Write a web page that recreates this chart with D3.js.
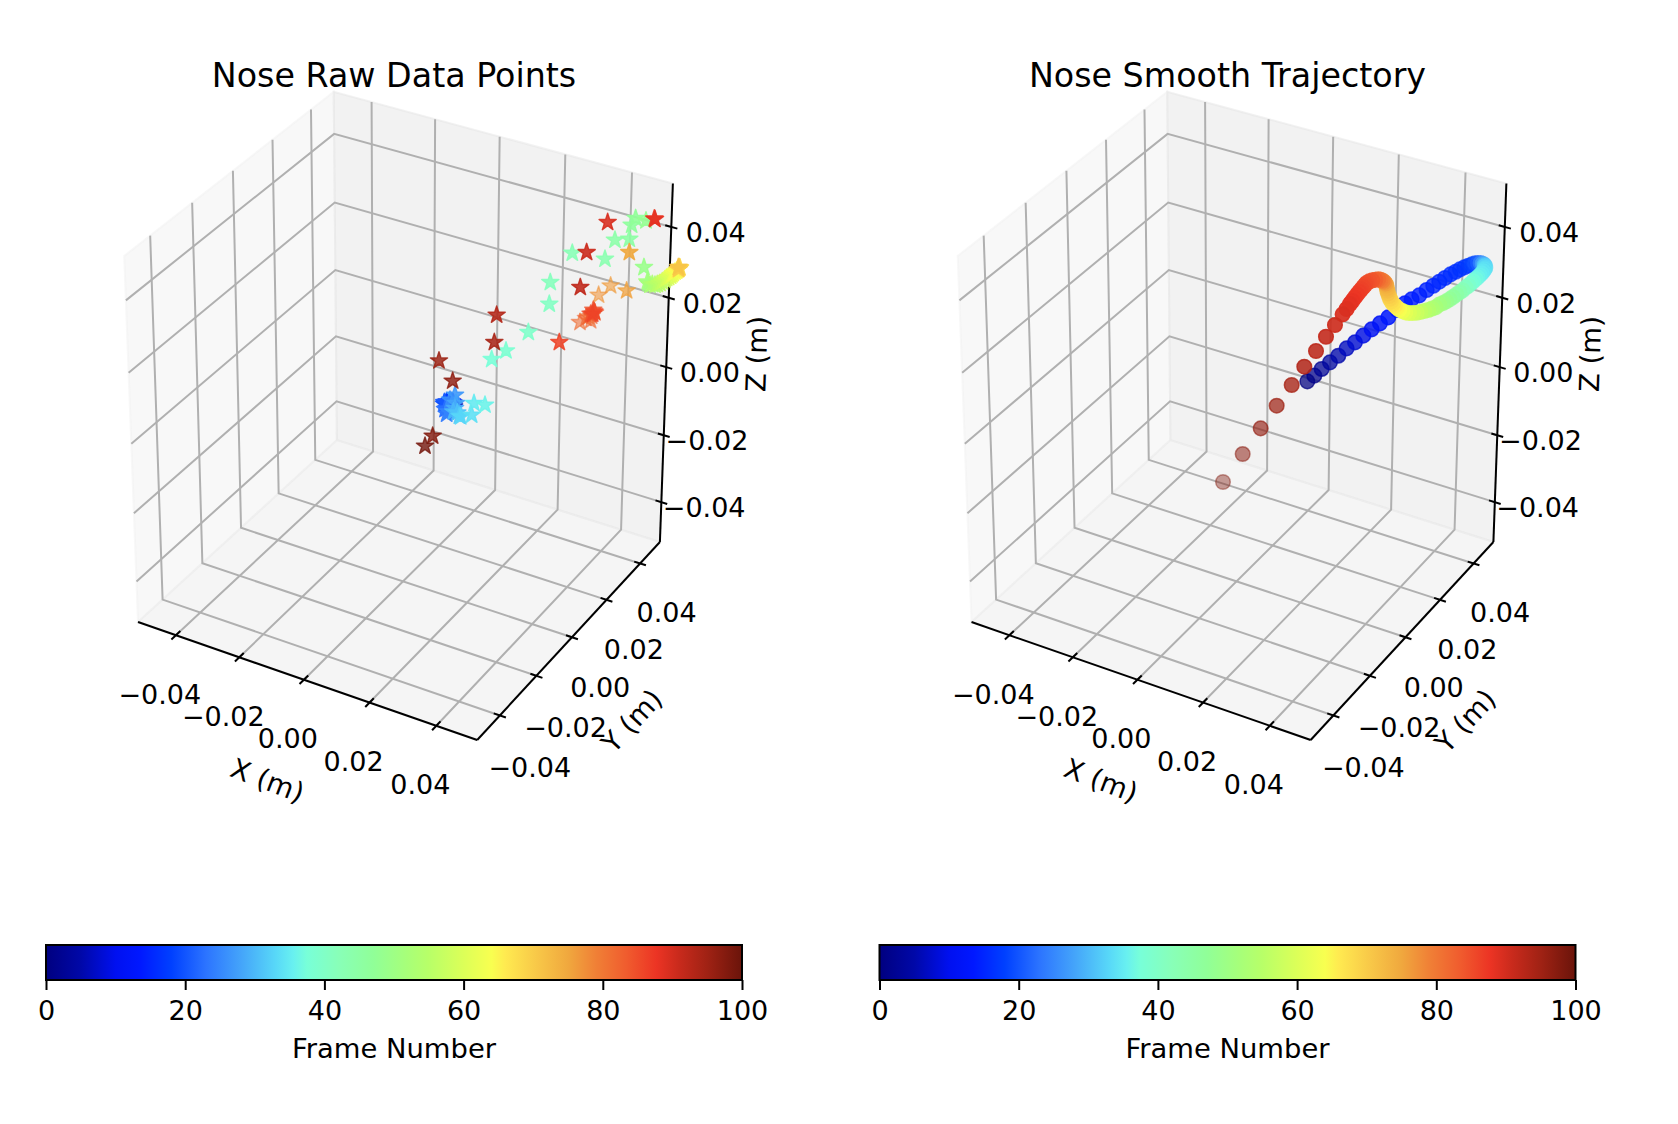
<!DOCTYPE html>
<html>
<head>
<meta charset="utf-8">
<title>Nose trajectory</title>
<script src="https://cdnjs.cloudflare.com/ajax/libs/d3/7.8.5/d3.min.js"></script>
<style>
  html, body { margin: 0; padding: 0; background: #fff; }
  svg { display: block; }
  text { font-family: "DejaVu Sans", sans-serif; fill: #000; }
</style>
</head>
<body>
<svg id="chart" width="1678" height="1124"></svg>
<script>
// Nose position per video frame, in millimetres.
const rawX = [10.84,11.33,11.61,10.85,11.35,11.87,10.95,11.16,11.47,10.62,11.2,11.66,10.63,11.09,10.51,10.12,9.92,9.86,9.59,9.4,9.37,10.28,9.96,10.63,10.87,10.53,11.37,12.12,12.2,12.03,13.01,13.68,14.03,16.46,16.27,18.9,17.6,20.36,24.37,27.43,26.31,29.55,37.46,38.57,41.82,41.49,41.99,44.52,46.97,48.95,48.62,49.45,49.94,50.6,51.09,51.64,52.08,52.58,52.87,53.27,53.65,53.87,54.09,54.4,54.71,54.88,55.05,55.17,55.28,55.11,55.07,54.88,42.65,44.42,40.43,38.24,37.21,35.64,38.0,36.77,37.94,38.5,37.94,37.58,38.28,38.04,32.13,46.31,46.51,35.79,32.82,33.54,15.99,17.15,5.54,9.96,8.78,7.64];
const rawY = [6.23,6.27,6.67,6.57,6.77,6.58,6.05,6.56,6.92,6.25,5.96,6.23,6.59,6.86,5.9,6.06,5.7,6.15,5.75,5.54,5.77,5.43,5.1,4.82,5.29,6.77,7.98,7.21,6.54,5.95,6.38,6.28,6.39,8.03,9.6,10.89,16.7,19.54,24.49,30.34,32.8,38.9,42.6,45.98,47.99,49.81,51.07,52.19,46.88,45.74,45.79,45.78,46.16,46.45,46.83,47.29,47.78,48.32,48.72,49.08,49.5,49.82,50.14,50.51,50.84,51.07,51.31,51.47,51.64,51.58,51.28,51.45,46.55,42.06,40.47,37.87,34.16,32.44,34.04,33.67,34.67,35.48,35.54,34.76,35.5,35.03,27.53,53.51,53.53,46.91,40.88,36.26,22.15,18.89,9.55,9.18,0.58,-1.52];
const rawZ = [-0.04,-0.4,-0.04,0.46,0.32,-0.4,-0.4,0.17,0.46,0.17,-0.76,-0.76,0.68,0.68,-0.26,0.32,-0.04,0.68,0.32,0.17,0.53,-0.76,-0.98,-1.99,-1.48,1.04,2.11,0.32,-0.76,-1.48,-1.7,-2.42,-2.56,-2.2,0.32,-0.04,9.81,11.68,15.64,21.75,26.43,32.76,31.46,35.56,35.78,38.8,40.24,39.74,29.67,26.21,26.57,25.85,26.0,25.85,26.0,26.21,26.57,26.93,27.29,27.51,27.8,28.08,28.37,28.66,28.87,29.09,29.31,29.45,29.59,29.67,29.23,29.67,32.9,24.63,25.71,23.69,19.02,17.8,18.16,18.66,19.16,19.88,20.46,19.59,20.1,19.59,13.48,40.17,40.03,39.38,32.9,25.35,19.38,13.48,9.52,5.14,-6.73,-8.89];

const smoothX = [14.86,16.12,17.39,18.89,20.4,21.86,23.41,24.91,26.44,27.98,29.53,31.14,32.5,33.79,35.3,36.66,37.93,39.06,40.14,41.21,42.21,43.05,43.93,44.74,45.51,46.14,46.81,47.43,47.93,48.37,48.6,48.79,48.74,48.55,48.3,47.96,47.63,47.26,46.87,46.46,45.99,45.5,44.98,44.41,43.79,43.16,42.54,41.89,41.24,40.49,39.82,39.05,38.29,37.44,36.57,35.77,34.87,34.02,33.14,32.37,31.59,30.93,30.34,29.76,29.22,28.76,28.36,27.97,27.64,27.41,27.1,26.82,26.41,25.95,25.42,24.86,24.19,23.55,22.91,22.4,22.15,21.88,21.57,21.25,20.9,20.56,20.22,19.87,19.41,18.82,17.72,16.38,14.97,13.25,11.48,9.31,7.04,4.49,1.7];
const smoothY = [11.95,13.49,15.19,17.02,18.84,20.74,22.5,24.33,26.12,27.88,29.63,31.62,33.36,34.68,36.13,37.68,39.03,40.27,41.41,42.56,43.51,44.35,45.13,45.84,46.48,46.98,47.42,47.77,47.97,48.08,48.03,47.89,47.63,47.23,46.8,46.31,45.83,45.38,44.82,44.3,43.68,43.12,42.43,41.82,41.12,40.42,39.73,39.07,38.44,37.78,37.01,36.37,35.74,35.1,34.46,33.9,33.34,32.85,32.43,32.18,31.92,31.83,31.78,31.72,31.75,31.87,32.02,32.18,32.37,32.59,32.78,32.91,32.91,32.83,32.67,32.4,31.96,31.5,30.99,30.45,30.02,29.58,29.06,28.55,27.91,27.28,26.61,25.98,24.99,23.88,21.71,19.25,16.38,13.13,9.48,5.25,0.67,-4.49,-10.13];
const smoothZ = [5.06,6.29,7.73,9.16,10.6,12.19,13.48,14.92,16.29,17.58,18.88,20.46,21.9,22.76,23.62,24.77,25.71,26.57,27.36,28.16,28.73,29.23,29.67,30.02,30.31,30.53,30.6,30.6,30.46,30.24,29.95,29.59,29.23,28.8,28.37,27.94,27.51,27.15,26.64,26.21,25.71,25.28,24.7,24.27,23.77,23.26,22.76,22.33,21.97,21.61,21.03,20.75,20.46,20.24,20.03,19.88,19.81,19.81,19.96,20.24,20.53,20.96,21.39,21.82,22.33,22.9,23.48,24.06,24.63,25.13,25.71,26.14,26.5,26.79,27.0,27.08,27.0,26.86,26.64,26.28,25.85,25.42,24.92,24.41,23.77,23.12,22.4,21.75,20.67,19.52,17.22,14.7,11.61,8.23,4.27,-0.19,-5.08,-10.62,-16.66];

const axisTicks = [-0.04, -0.02, 0, 0.02, 0.04];
const colorbarTicks = [0, 20, 40, 60, 80, 100];

// Frame-number colour ramp.
const rampStops = [0, 5, 10, 13.5, 18, 23, 28, 33, 35.5, 37.5, 42, 47, 52, 55, 60, 64, 66, 70.5, 75, 79, 83.4, 87.7, 91, 95, 100];
const rampColors = ["#000080", "#0008a8", "#0010f0", "#0018ff", "#0040ff", "#2c74ff", "#44a4fa", "#58d8f8", "#68f0f0", "#78ffd8", "#88ffb8", "#90ff98", "#a8ff78", "#b8ff68", "#dcff58", "#f8ff50", "#ffea50", "#f8c848", "#f0a83e", "#f08036", "#f05c2e", "#ec3424", "#c82a1c", "#a02214", "#6a140a"];
const frameColor = d3.scaleLinear().domain(rampStops).range(rampColors);

// Frame number carried by each stored sample.
const rawFrameOf = d3.scaleLinear()
  .domain([0, 35, 36, 71, 72, 75, 76, 85, 86, 97])
  .range([0, 36, 37.5, 71, 75, 77, 81, 86, 86, 99]);
const smoothFrameOf = d3.scaleLinear()
  .domain([0, 10, 23, 26, 28, 30, 39, 44, 50, 57, 60, 70, 73, 77, 85, 89, 98])
  .range([0, 13, 17, 21, 28, 33, 38, 45, 52, 60, 64, 74, 79, 84, 87.5, 89.5, 98]);

// Depth fade applied to the marks, by sample.
const rawOpacity = d3.scaleLinear().domain([0, 72, 74, 79, 84, 90, 98]).range([0.88, 0.9, 0.6, 0.55, 0.85, 0.9, 0.78]);
const smoothOpacity = d3.scaleLinear().domain([0, 10, 30, 60, 88, 93, 96, 98]).range([0.72, 0.85, 0.62, 0.82, 0.95, 0.85, 0.65, 0.42]);

// View geometry of the 3D axes.
const elev = 30 * Math.PI / 180, azim = -60 * Math.PI / 180, eyeDist = 10;
const span = 0.1 / 0.96, boxMax = span / 2, boxMin = -boxMax;
const right = [-Math.sin(azim), Math.cos(azim), 0];
const up = [-Math.sin(elev) * Math.cos(azim), -Math.sin(elev) * Math.sin(azim), Math.cos(elev)];
const toEye = [Math.cos(elev) * Math.cos(azim), Math.cos(elev) * Math.sin(azim), Math.sin(elev)];
const dot = (a, b) => a[0] * b[0] + a[1] * b[1] + a[2] * b[2];

const sx = d3.scaleLinear().domain([0, 1]).range([403, 403 + 391.5]);
const sy = d3.scaleLinear().domain([0, 1]).range([404.8, 404.8 - 418]);

function project(x, y, z) {
  const p = [x / span, y / span, z / span];
  const f = eyeDist / (eyeDist - dot(p, toEye));
  return [sx(dot(p, right) * f), sy(dot(p, up) * f)];
}
const polyline = d3.line();

const svg = d3.select("#chart");
svg.append("rect").attr("width", 1678).attr("height", 1124).attr("fill", "#fff");

// Shared gradient for both colour bars
const gradient = svg.append("defs").append("linearGradient").attr("id", "frame-ramp")
  .attr("x1", "0%").attr("x2", "100%").attr("y1", "0%").attr("y2", "0%");
gradient.selectAll("stop").data(rampStops).join("stop")
  .attr("offset", d => `${d}%`).attr("stop-color", d => frameColor(d));

function drawPanel(offsetX, title, drawMarks) {
  const g = svg.append("g").attr("transform", `translate(${offsetX},0)`);

  // Panes: x wall, y wall, floor
  const panes = [
    { c: "rgba(242,242,242,0.5)", pts: [[boxMin, boxMin, boxMin], [boxMin, boxMax, boxMin], [boxMin, boxMax, boxMax], [boxMin, boxMin, boxMax]] },
    { c: "rgba(230,230,230,0.5)", pts: [[boxMin, boxMax, boxMin], [boxMax, boxMax, boxMin], [boxMax, boxMax, boxMax], [boxMin, boxMax, boxMax]] },
    { c: "rgba(236,236,236,0.5)", pts: [[boxMin, boxMin, boxMin], [boxMax, boxMin, boxMin], [boxMax, boxMax, boxMin], [boxMin, boxMax, boxMin]] }
  ];
  g.selectAll("path.pane").data(panes).join("path").attr("class", "pane")
    .attr("d", d => polyline(d.pts.map(p => project(...p))) + "Z")
    .attr("fill", d => d.c).attr("stroke", d => d.c).attr("stroke-width", 2);

  // Grid lines run across the floor and up the back walls
  const gridPaths = [];
  axisTicks.forEach(t => {
    gridPaths.push([[t, boxMin, boxMin], [t, boxMax, boxMin], [t, boxMax, boxMax]]);
    gridPaths.push([[boxMax, t, boxMin], [boxMin, t, boxMin], [boxMin, t, boxMax]]);
    gridPaths.push([[boxMin, boxMin, t], [boxMin, boxMax, t], [boxMax, boxMax, t]]);
  });
  g.selectAll("path.grid").data(gridPaths).join("path").attr("class", "grid")
    .attr("d", d => polyline(d.map(p => project(...p))))
    .attr("fill", "none").attr("stroke", "#b0b0b0").attr("stroke-width", 2);

  // Axis lines
  const axes = [
    [[boxMin, boxMin, boxMin], [boxMax, boxMin, boxMin]],
    [[boxMax, boxMin, boxMin], [boxMax, boxMax, boxMin]],
    [[boxMax, boxMax, boxMin], [boxMax, boxMax, boxMax]]
  ];
  g.selectAll("path.axis3d").data(axes).join("path").attr("class", "axis3d")
    .attr("d", d => polyline(d.map(p => project(...p))))
    .attr("fill", "none").attr("stroke", "#000").attr("stroke-width", 2);

  // Tick marks and labels per axis; label offsets drift a little along each axis
  const tickX = 0.0018, tickY = 0.0022;
  const fmt = d3.format(".2f");
  const labelDx = (a, b) => d3.scaleLinear().domain([-0.04, 0.04]).range([a, b]);
  const axisSpec = [
    { seg: t => [[t, boxMin - tickY, boxMin], [t, boxMin + tickY, boxMin]], at: t => [t, boxMin, boxMin], dx: labelDx(-16, -16), dy: labelDx(58.8, 58.8) },
    { seg: t => [[boxMax - tickX, t, boxMin], [boxMax + tickX, t, boxMin]], at: t => [boxMax, t, boxMin], dx: labelDx(30, 26.5), dy: labelDx(52, 49.3) },
    { seg: t => [[boxMax - tickX, boxMax, t], [boxMax + tickX, boxMax, t]], at: t => [boxMax, boxMax, t], dx: labelDx(42.8, 44.4), dy: labelDx(5.3, 5.5) }
  ];
  axisSpec.forEach(spec => {
    g.append("g").selectAll("path").data(axisTicks).join("path")
      .attr("d", t => polyline(spec.seg(t).map(p => project(...p))))
      .attr("stroke", "#000").attr("stroke-width", 2).attr("fill", "none");
    g.append("g").selectAll("text").data(axisTicks).join("text")
      .attr("x", t => project(...spec.at(t))[0] + spec.dx(t))
      .attr("y", t => project(...spec.at(t))[1] + spec.dy(t))
      .attr("text-anchor", "middle").attr("dominant-baseline", "central")
      .attr("font-size", 27).text(fmt);
  });

  // Axis titles
  const axisTitles = [
    { t: "X (m)", x: 267.5, y: 780.5, r: 21 },
    { t: "Y (m)", x: 632, y: 721, r: -47 },
    { t: "Z (m)", x: 757, y: 354, r: -88 }
  ];
  g.selectAll("text.axis-title").data(axisTitles).join("text").attr("class", "axis-title")
    .attr("transform", d => `translate(${d.x},${d.y}) rotate(${d.r})`)
    .attr("text-anchor", "middle").attr("dominant-baseline", "central")
    .attr("font-size", 27.6).text(d => d.t);

  g.append("text").attr("x", 394).attr("y", 75)
    .attr("text-anchor", "middle").attr("dominant-baseline", "central")
    .attr("font-size", 33.3).text(title);

  drawMarks(g);

  // Colour bar
  const barScale = d3.scaleLinear().domain([0, 100]).range([46, 742]);
  const barTop = 945, barBottom = 980;
  g.append("rect").attr("x", barScale(0)).attr("y", barTop)
    .attr("width", barScale(100) - barScale(0)).attr("height", barBottom - barTop)
    .attr("fill", "url(#frame-ramp)").attr("stroke", "#000").attr("stroke-width", 2);
  const barAxis = g.append("g").attr("transform", `translate(0,${barBottom})`)
    .call(d3.axisBottom(barScale).tickValues(colorbarTicks).tickFormat(d3.format("d")).tickSize(10).tickPadding(0));
  barAxis.select(".domain").remove();
  barAxis.selectAll("line").attr("stroke-width", 2).attr("stroke", "#000");
  barAxis.selectAll("text").attr("font-size", 27).attr("font-family", '"DejaVu Sans", sans-serif')
    .attr("y", 30).attr("dy", null).attr("dominant-baseline", "central");
  g.append("text").attr("x", 394).attr("y", 1048)
    .attr("text-anchor", "middle").attr("dominant-baseline", "central")
    .attr("font-size", 27.4).text("Frame Number");
}

// Raw samples are stars, the fitted curve is discs with a denser ring at the rim.
drawPanel(0, "Nose Raw Data Points", g => {
  const star = d3.symbol().type(d3.symbolStar).size(92)();
  g.append("g").selectAll("path").data(d3.range(rawX.length)).join("path")
    .attr("d", star)
    .attr("transform", i => {
      const [px, py] = project(rawX[i] / 1000, rawY[i] / 1000, rawZ[i] / 1000);
      return `translate(${px},${py})`;
    })
    .attr("fill", i => frameColor(rawFrameOf(i))).attr("stroke", i => frameColor(rawFrameOf(i)))
    .attr("stroke-width", 1.4).attr("stroke-linejoin", "round")
    .attr("fill-opacity", i => rawOpacity(i)).attr("stroke-opacity", i => rawOpacity(i));
});

drawPanel(833.5, "Nose Smooth Trajectory", g => {
  g.append("g").selectAll("circle").data(d3.range(smoothX.length)).join("circle")
    .attr("cx", i => project(smoothX[i] / 1000, smoothY[i] / 1000, smoothZ[i] / 1000)[0])
    .attr("cy", i => project(smoothX[i] / 1000, smoothY[i] / 1000, smoothZ[i] / 1000)[1])
    .attr("r", 7.3)
    .attr("fill", i => frameColor(smoothFrameOf(i))).attr("stroke", i => frameColor(smoothFrameOf(i)))
    .attr("stroke-width", 1.5).attr("fill-opacity", i => smoothOpacity(i)).attr("stroke-opacity", i => smoothOpacity(i));
});
</script>
</body>
</html>
